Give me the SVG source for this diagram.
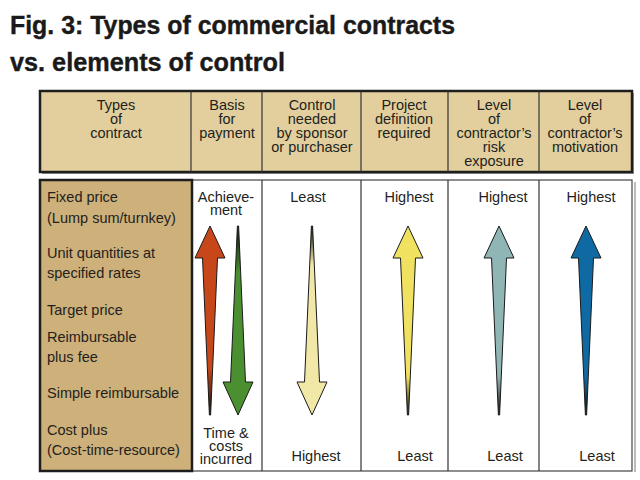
<svg xmlns="http://www.w3.org/2000/svg" width="640" height="480" viewBox="0 0 640 480">
<defs>
<style>
.t{font-family:"Liberation Sans",Arial,sans-serif;font-size:14.5px;fill:#231f20}
.c{text-anchor:middle}
.title{font-family:"Liberation Sans",Arial,sans-serif;font-weight:bold;font-size:26px;fill:#1a1a1a;stroke:#1a1a1a;stroke-width:0.4}
.div{stroke:#333;stroke-width:1.2}
.ar{stroke:#1a1a1a;stroke-width:1}
</style>
<linearGradient id="gRed" x1="0" y1="0" x2="0" y2="1"><stop offset="0" stop-color="#c7471b"/><stop offset="0.75" stop-color="#c7471b"/><stop offset="1" stop-color="#111"/></linearGradient>
<linearGradient id="gGreen" x1="0" y1="1" x2="0" y2="0"><stop offset="0" stop-color="#4b9030"/><stop offset="0.75" stop-color="#4b9030"/><stop offset="1" stop-color="#111"/></linearGradient>
<linearGradient id="gPale" x1="0" y1="1" x2="0" y2="0"><stop offset="0" stop-color="#f1e7a6"/><stop offset="0.8" stop-color="#f1e7a6"/><stop offset="1" stop-color="#111"/></linearGradient>
<linearGradient id="gYel" x1="0" y1="0" x2="0" y2="1"><stop offset="0" stop-color="#f0e160"/><stop offset="0.8" stop-color="#f0e160"/><stop offset="1" stop-color="#111"/></linearGradient>
<linearGradient id="gTeal" x1="0" y1="0" x2="0" y2="1"><stop offset="0" stop-color="#8fb6b5"/><stop offset="0.8" stop-color="#8fb6b5"/><stop offset="1" stop-color="#111"/></linearGradient>
<linearGradient id="gBlue" x1="0" y1="0" x2="0" y2="1"><stop offset="0" stop-color="#0f6aa3"/><stop offset="0.8" stop-color="#0f6aa3"/><stop offset="1" stop-color="#111"/></linearGradient>
</defs>
<rect width="640" height="480" fill="#ffffff"/>

<g id="title">
<text class="title" x="10" y="34" textLength="445" lengthAdjust="spacingAndGlyphs">Fig. 3: Types of commercial contracts</text>
<text class="title" x="10" y="71" textLength="275" lengthAdjust="spacingAndGlyphs">vs. elements of control</text>
</g>

<g id="header">
<rect x="42" y="93" width="592" height="81" fill="#9a9a9a"/>
<rect x="40" y="91" width="592" height="81" fill="#e2cf9d" stroke="#1e1e1e" stroke-width="2.5"/>
<line class="div" x1="191" y1="91" x2="191" y2="172"/>
<line class="div" x1="262" y1="91" x2="262" y2="172"/>
<line class="div" x1="361" y1="91" x2="361" y2="172"/>
<line class="div" x1="448" y1="91" x2="448" y2="172"/>
<line class="div" x1="539" y1="91" x2="539" y2="172"/>
<text class="t c" x="116" y="110">Types</text>
<text class="t c" x="116" y="124">of</text>
<text class="t c" x="116" y="138">contract</text>
<text class="t c" x="227" y="110">Basis</text>
<text class="t c" x="227" y="124">for</text>
<text class="t c" x="227" y="138">payment</text>
<text class="t c" x="312" y="110">Control</text>
<text class="t c" x="312" y="124">needed</text>
<text class="t c" x="312" y="138">by sponsor</text>
<text class="t c" x="312" y="152">or purchaser</text>
<text class="t c" x="404" y="110">Project</text>
<text class="t c" x="404" y="124">definition</text>
<text class="t c" x="404" y="138">required</text>
<text class="t c" x="494" y="110">Level</text>
<text class="t c" x="494" y="124">of</text>
<text class="t c" x="494" y="138">contractor’s</text>
<text class="t c" x="494" y="152">risk</text>
<text class="t c" x="494" y="166">exposure</text>
<text class="t c" x="585" y="110">Level</text>
<text class="t c" x="585" y="124">of</text>
<text class="t c" x="585" y="138">contractor’s</text>
<text class="t c" x="585" y="152">motivation</text>
</g>

<g id="body">
<rect x="634" y="182" width="2" height="290" fill="#bbbbbb"/>
<rect x="192" y="180" width="440" height="291" fill="#ffffff" stroke="#444" stroke-width="1.2"/>
<line class="div" x1="262" y1="180" x2="262" y2="471"/>
<line class="div" x1="361" y1="180" x2="361" y2="471"/>
<line class="div" x1="448" y1="180" x2="448" y2="471"/>
<line class="div" x1="539" y1="180" x2="539" y2="471"/>
</g>

<g id="contract-types">
<rect x="40" y="180" width="152" height="291" fill="#cdb07a" stroke="#1e1e1e" stroke-width="2.5"/>
<text class="t" x="47" y="202">Fixed price</text>
<text class="t" x="47" y="223">(Lump sum/turnkey)</text>
<text class="t" x="47" y="258">Unit quantities at</text>
<text class="t" x="47" y="278">specified rates</text>
<text class="t" x="47" y="315">Target price</text>
<text class="t" x="47" y="342">Reimbursable</text>
<text class="t" x="47" y="362">plus fee</text>
<text class="t" x="47" y="398">Simple reimbursable</text>
<text class="t" x="47" y="435">Cost plus</text>
<text class="t" x="47" y="455">(Cost-time-resource)</text>
</g>

<g id="basis">
<text class="t c" x="226" y="202">Achieve-</text>
<text class="t c" x="226" y="215">ment</text>
<text class="t c" x="226" y="438">Time &amp;</text>
<text class="t c" x="226" y="451">costs</text>
<text class="t c" x="226" y="464">incurred</text>
</g>

<g id="control">
<text class="t c" x="308" y="202">Least</text>
<text class="t c" x="316" y="461">Highest</text>
</g>

<g id="project">
<text class="t c" x="409" y="202">Highest</text>
<text class="t c" x="415" y="461">Least</text>
</g>

<g id="risk">
<text class="t c" x="503" y="202">Highest</text>
<text class="t c" x="505" y="461">Least</text>
</g>

<g id="motivation">
<text class="t c" x="591" y="202">Highest</text>
<text class="t c" x="597" y="461">Least</text>
</g>

<g id="connectors">
<polygon class="ar" fill="url(#gRed)" points="210,226 225,258 217.5,258 210.6,415 209.4,415 202.5,258 195,258"/>
<polygon class="ar" fill="url(#gGreen)" points="238.6,226 245.5,382 253,382 238,415 223,382 230.5,382 237.4,226"/>
<polygon class="ar" fill="url(#gPale)" points="312.6,226 319.5,382 327,382 312,415 297,382 304.5,382 311.4,226"/>
<polygon class="ar" fill="url(#gYel)" points="408,226 423,258 415.5,258 408.6,415 407.4,415 400.5,258 393,258"/>
<polygon class="ar" fill="url(#gTeal)" points="499,226 514,258 506.5,258 499.6,415 498.4,415 491.5,258 484,258"/>
<polygon class="ar" fill="url(#gBlue)" points="586,226 601,258 593.5,258 586.6,415 585.4,415 578.5,258 571,258"/>
</g>
</svg>
